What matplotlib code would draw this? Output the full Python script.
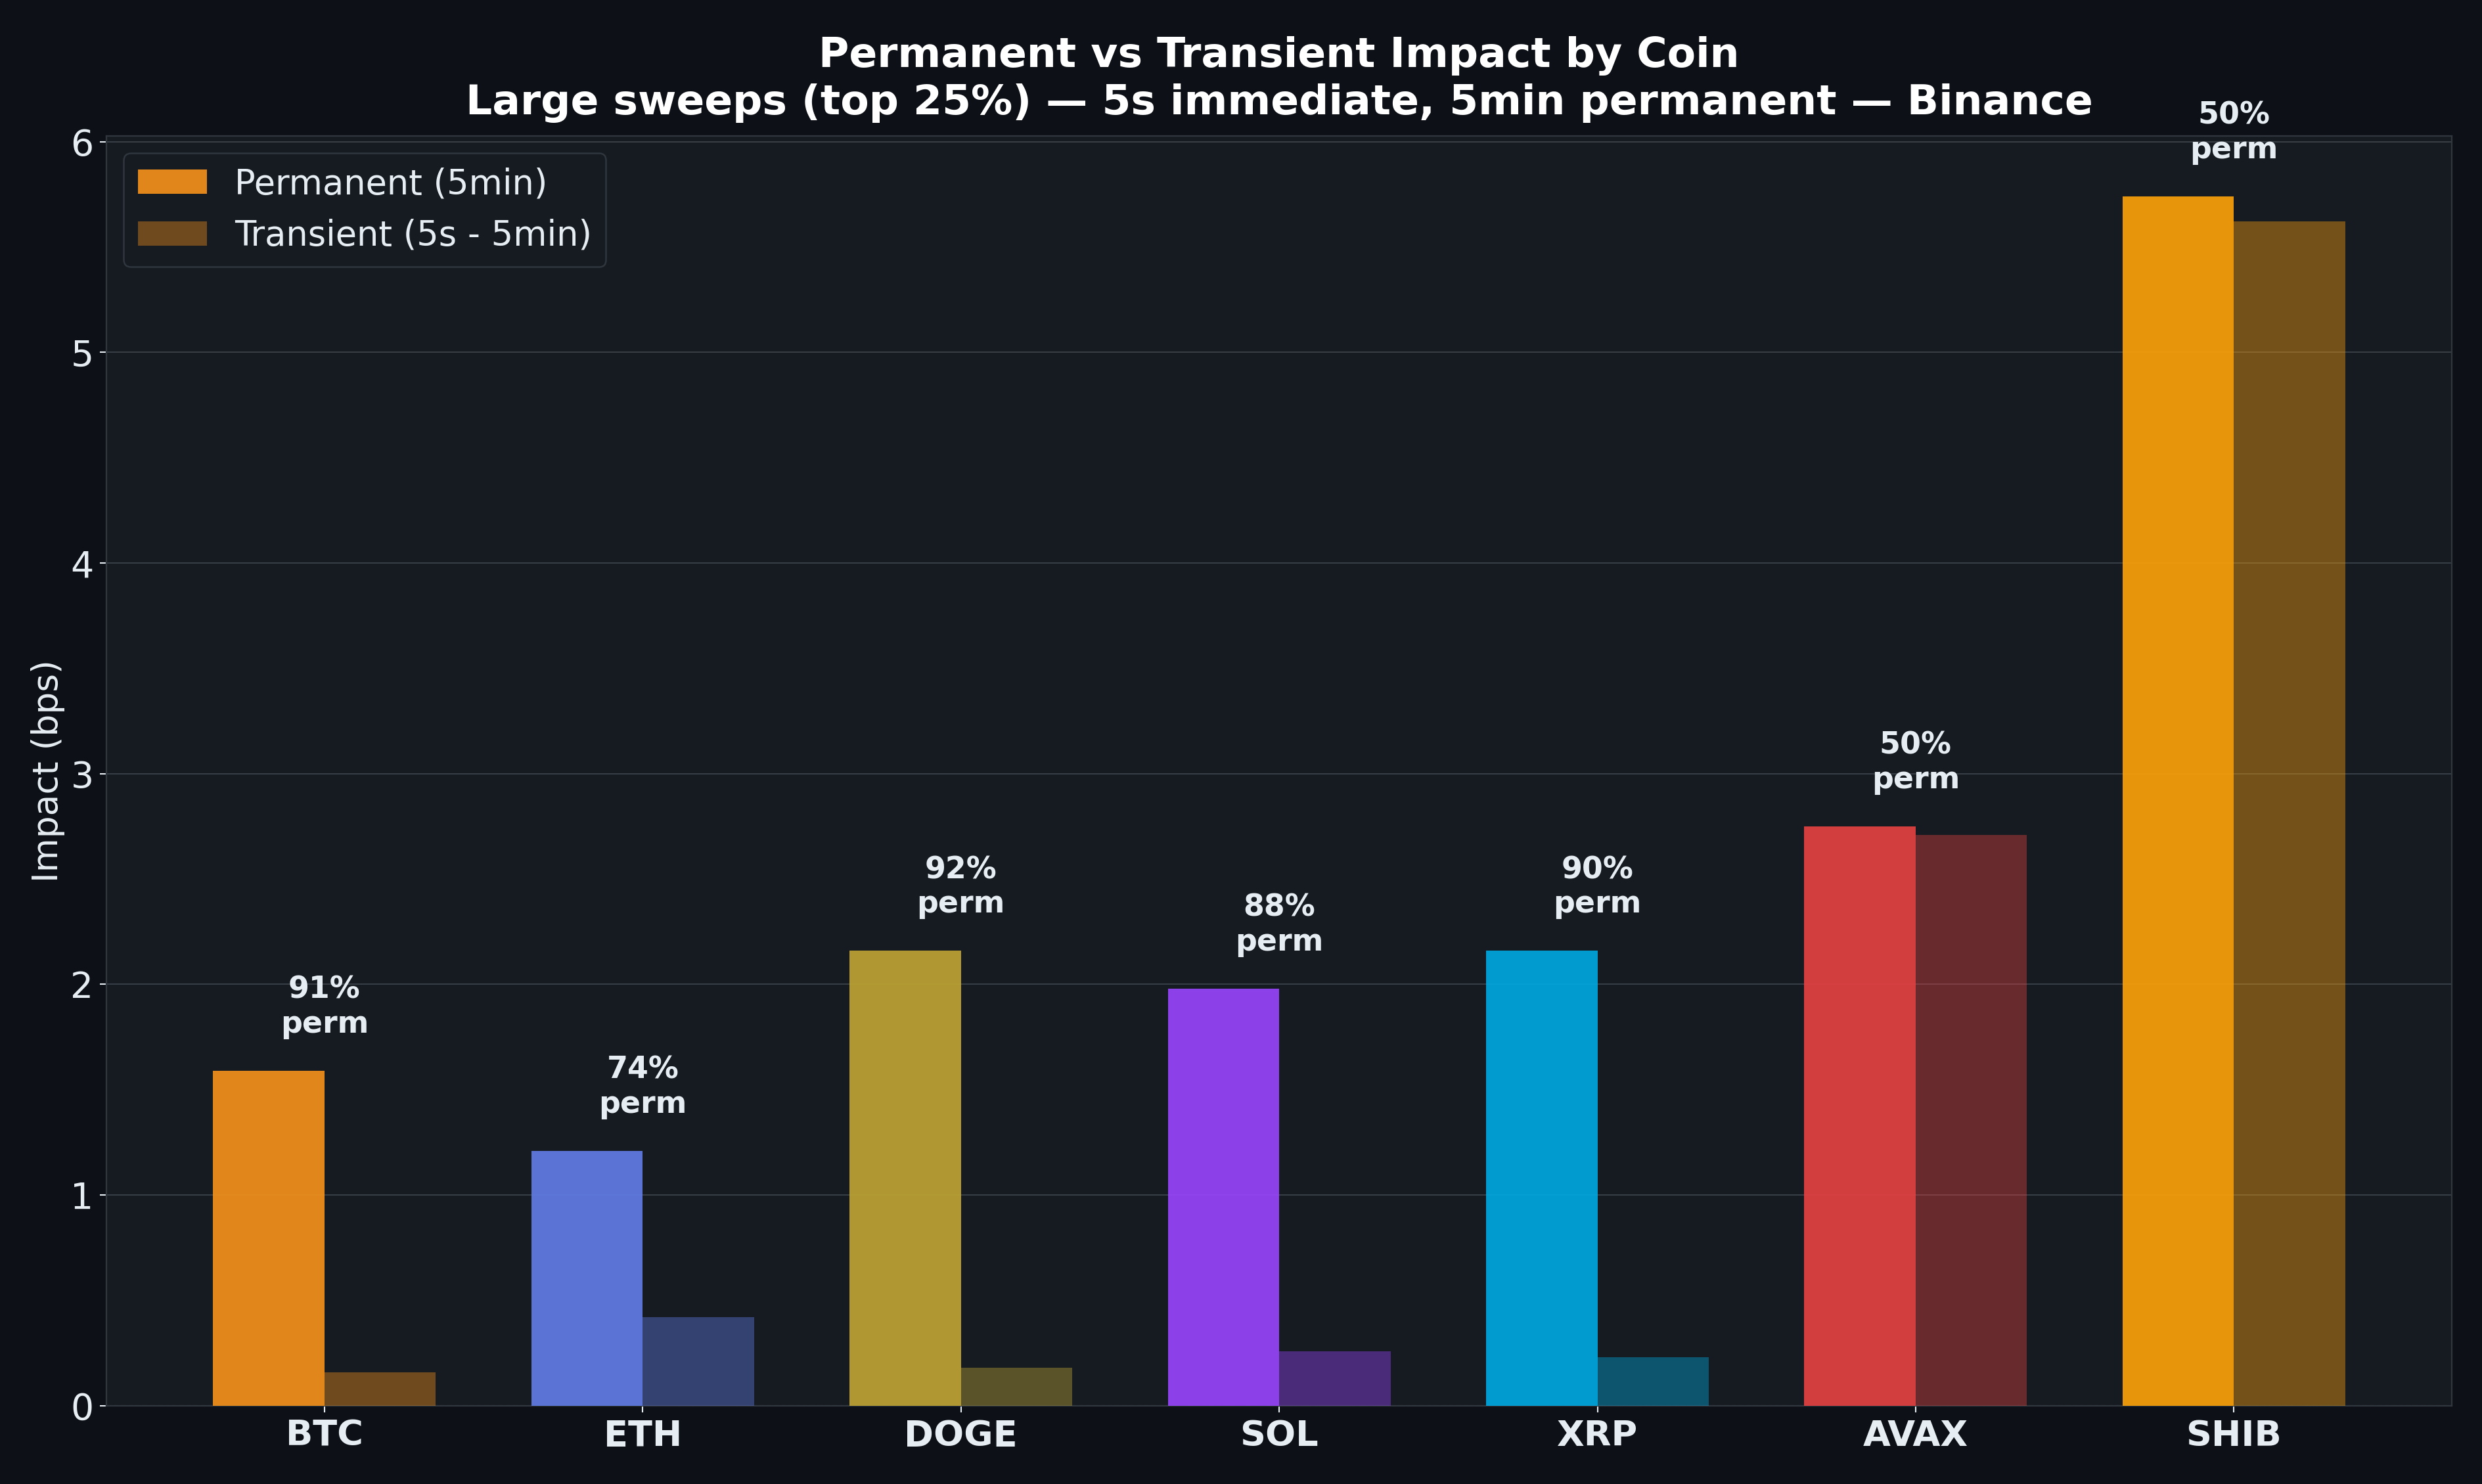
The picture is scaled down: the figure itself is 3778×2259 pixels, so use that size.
import matplotlib
matplotlib.use("Agg")
import matplotlib.pyplot as plt
import numpy as np

coins = ["BTC", "ETH", "DOGE", "SOL", "XRP", "AVAX", "SHIB"]
permanent = [1.59, 1.21, 2.16, 1.98, 2.16, 2.75, 5.74]
transient = [0.16, 0.42, 0.18, 0.26, 0.23, 2.71, 5.62]
perm_pct = [91, 74, 92, 88, 90, 50, 50]
coin_colors = ["#F7931A", "#627EEA", "#C2A633", "#9945FF", "#00AAE4", "#E84142", "#FFA409"]

FIG_BG = "#0D1117"
AX_BG = "#161B22"
TXT = "#E6EDF3"
EDGE = "#30363D"

fig = plt.figure(figsize=(3779 / 300, 2259 / 300), dpi=300, facecolor=FIG_BG)
ax = fig.add_axes([0.0429, 0.0527, 0.9447, 0.8557], facecolor=AX_BG)

x = np.arange(len(coins))
w = 0.35
ax.bar(x - w / 2, permanent, w, color=coin_colors, alpha=0.9, label="Permanent (5min)", zorder=3)
ax.bar(x + w / 2, transient, w, color=coin_colors, alpha=0.4, label="Transient (5s - 5min)", zorder=3)

for i in range(len(coins)):
    top = max(permanent[i], transient[i])
    ax.text(x[i], top + 0.15, f"{perm_pct[i]}%\nperm", ha="center", va="bottom",
            fontsize=11, fontweight="bold", color=TXT, clip_on=False, zorder=4)

ax.axhline(0, color="#8b949e", linestyle="--", linewidth=0.5, alpha=0.5, zorder=2)

ax.set_xticks(x)
ax.set_xticklabels(coins, fontsize=13, fontweight="bold", color=TXT)
ax.tick_params(axis="y", labelsize=13.3, colors=TXT)
ax.tick_params(axis="x", colors=TXT)
ax.tick_params(length=2.3, width=0.5, pad=2.4)
ax.set_ylabel("Impact (bps)", fontsize=12.8, color=TXT, labelpad=2.0)
ax.grid(axis="y", color="#8b949e", alpha=0.35, linewidth=0.4, zorder=0)
ax.set_axisbelow(True)
for s in ax.spines.values():
    s.set_color(EDGE)
    s.set_linewidth(0.55)

ax.set_title("Permanent vs Transient Impact by Coin\nLarge sweeps (top 25%) \u2014 5s immediate, 5min permanent \u2014 Binance",
             fontsize=15.2, fontweight="bold", color="white", pad=8, linespacing=1.25)

leg = ax.legend(loc="upper left", fontsize=12.65, facecolor=AX_BG, edgecolor=EDGE, labelcolor=TXT)
leg.get_frame().set_alpha(1.0)
leg.get_frame().set_linewidth(0.6)

fig.savefig("out.png", dpi=300, facecolor=FIG_BG)
